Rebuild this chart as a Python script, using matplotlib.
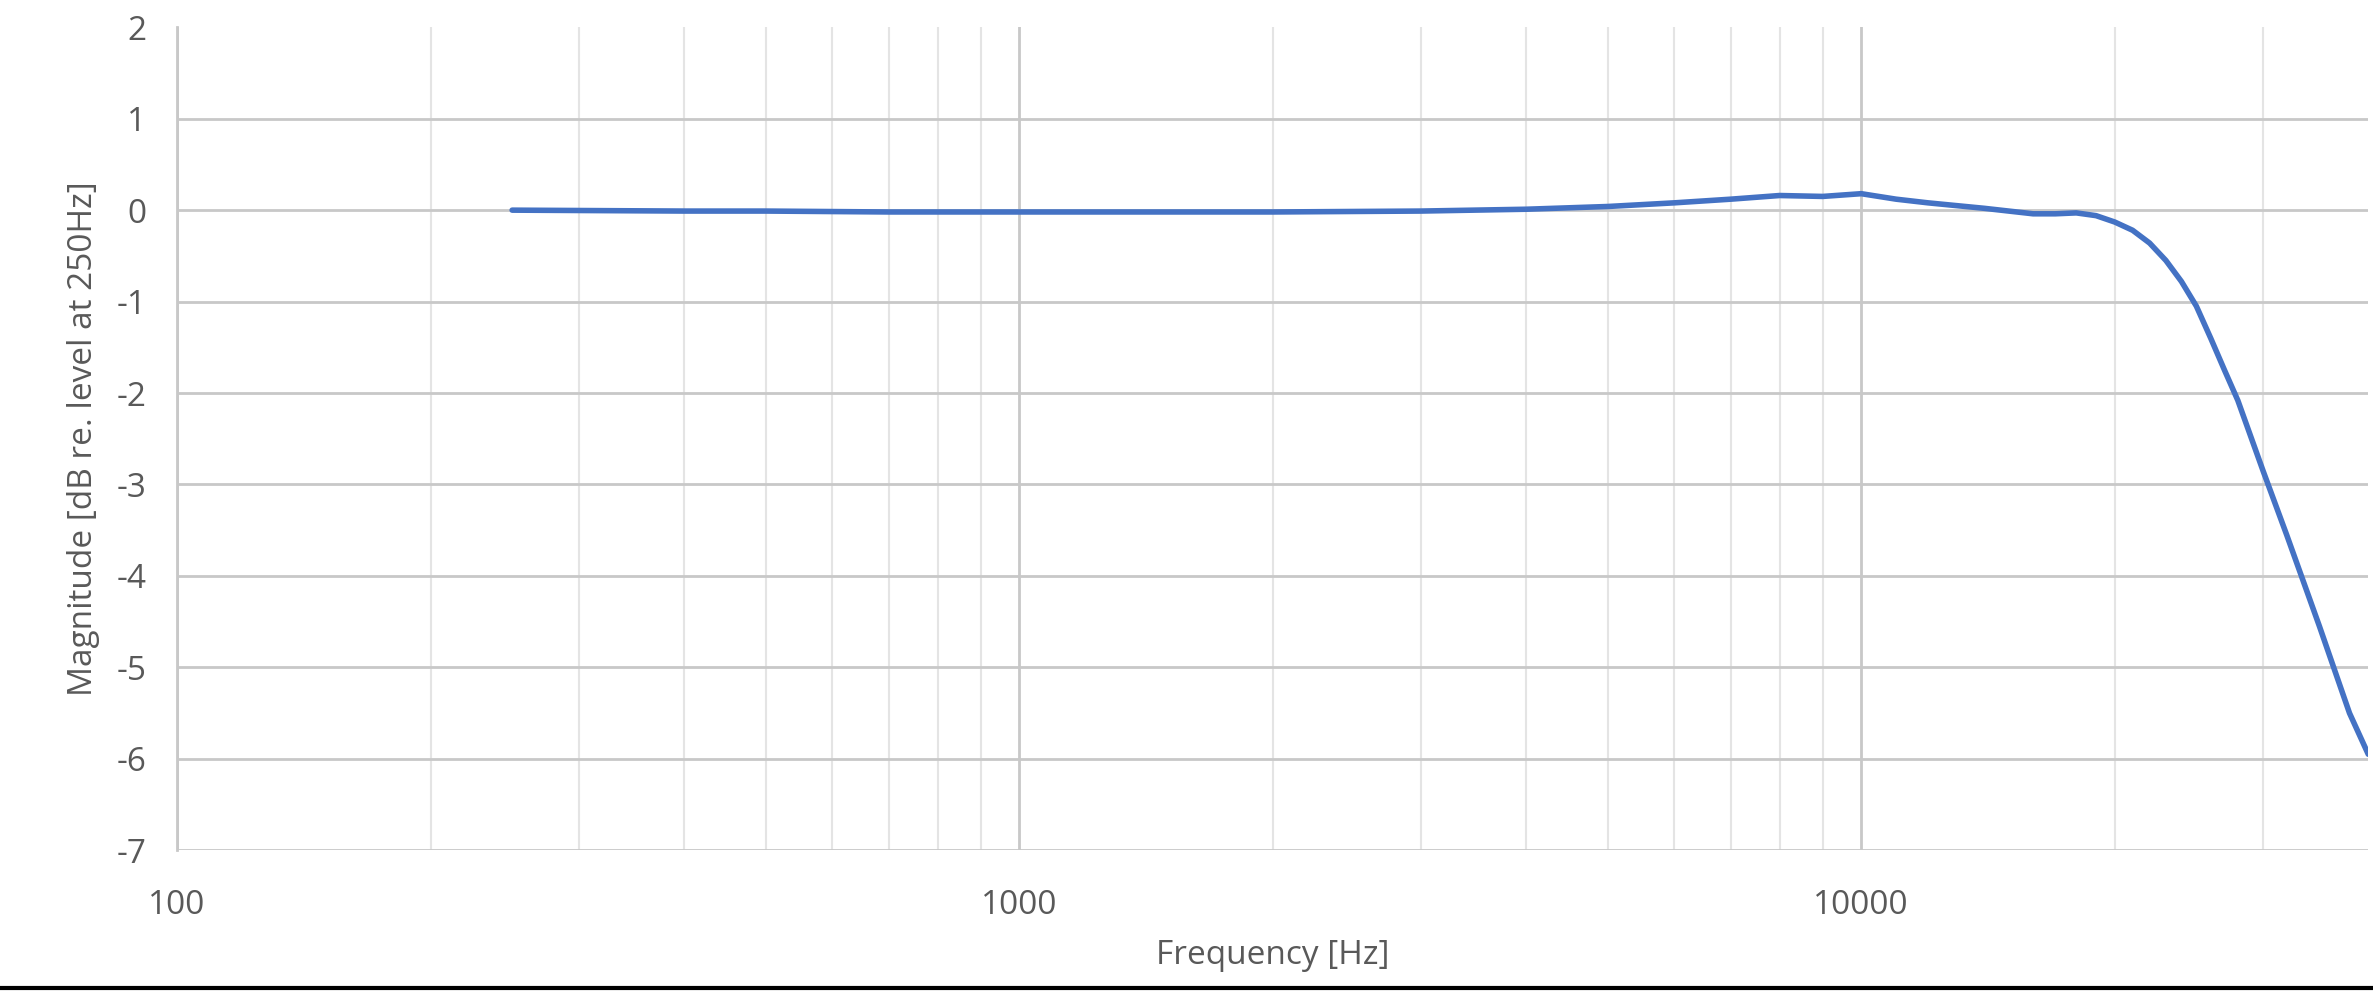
import matplotlib
matplotlib.use("Agg")
import matplotlib.pyplot as plt
from matplotlib.ticker import FixedLocator, NullFormatter

plt.rcParams["font.family"] = ["Open Sans", "DejaVu Sans"]
plt.rcParams["axes.unicode_minus"] = False

# values
freq_hz = [250, 400, 500, 700, 1000, 1500, 2000, 3000, 4000, 5000, 6000, 7000, 8000,
           9000, 10000, 11000, 12000, 14000, 16000, 17000, 18000, 19000, 20000, 21000,
           22000, 23000, 24000, 25000, 26000, 27000, 28000, 30000, 32000, 35000, 38000, 40000]
mag_db = [0.0, -0.01, -0.01, -0.02, -0.02, -0.02, -0.02, -0.01, 0.01, 0.04, 0.08, 0.12, 0.16,
          0.15, 0.18, 0.12, 0.08, 0.02, -0.04, -0.04, -0.03, -0.06, -0.13, -0.22,
          -0.36, -0.55, -0.78, -1.05, -1.4, -1.75, -2.08, -2.85, -3.55, -4.55, -5.5, -5.95]

major_x = [100, 1000, 10000]
minor_x = [200, 300, 400, 500, 600, 700, 800, 900,
           2000, 3000, 4000, 5000, 6000, 7000, 8000, 9000, 20000, 30000]
y_ticks = list(range(-7, 3))

fig = plt.figure(figsize=(23.73, 9.91), dpi=100)
ax = fig.add_axes([0.0746, 0.142, 0.9234, 0.8305])

ax.set_xscale("log")
ax.set_xlim(100, 40000)
ax.set_ylim(-7, 2)

for x in minor_x:
    ax.axvline(x, color="#e4e4e4", linewidth=1.5, zorder=0)
for x in major_x:
    ax.axvline(x, color="#c8c8c8", linewidth=2, zorder=0)
for y in y_ticks[:-1]:
    ax.axhline(y, color="#c8c8c8", linewidth=2, zorder=0)

ax.plot(freq_hz, mag_db, color="#4472C4", linewidth=4, zorder=3,
        solid_joinstyle="round", solid_capstyle="round")

ax.xaxis.set_major_locator(FixedLocator(major_x))
ax.set_xticklabels([str(x) for x in major_x])
ax.xaxis.set_minor_locator(FixedLocator(minor_x))
ax.xaxis.set_minor_formatter(NullFormatter())
ax.set_yticks(y_ticks)
ax.tick_params(axis="both", which="both", length=0, labelsize=24, labelcolor="#595959")
ax.tick_params(axis="x", pad=28)
ax.tick_params(axis="y", pad=22)

for s in ["top", "right", "bottom"]:
    ax.spines[s].set_visible(False)
ax.spines["left"].set_color("#c8c8c8")
ax.spines["left"].set_linewidth(2)

ax.set_xlabel("Frequency [Hz]", fontsize=24, color="#595959", labelpad=12)
ax.set_ylabel("Magnitude [dB re. level at 250Hz]", fontsize=24, color="#595959", labelpad=12)

fig.add_artist(plt.Line2D([0, 1], [0.003, 0.003], color="black", linewidth=3, transform=fig.transFigure))

fig.savefig("out.png", dpi=100)
